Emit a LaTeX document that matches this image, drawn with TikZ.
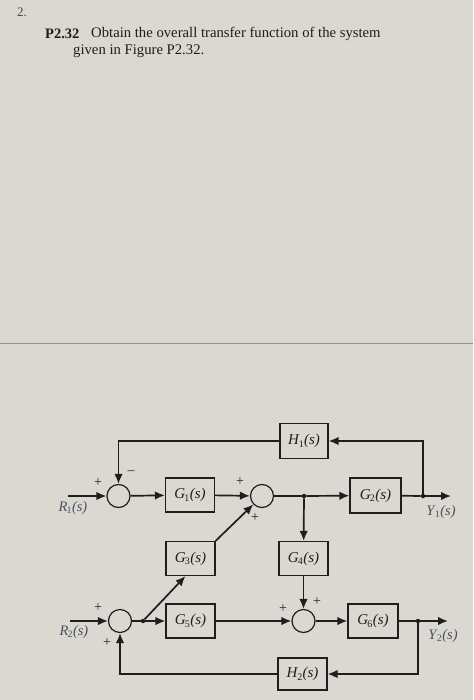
\documentclass[tikz,border=0pt]{standalone}
\usepackage{fontspec}
\setmainfont{Liberation Serif}
\usetikzlibrary{arrows.meta,calc}
\definecolor{paper}{RGB}{219,216,209}
\definecolor{ink}{RGB}{30,30,32}
\definecolor{lab}{RGB}{70,82,96}
\newcommand\tfn[2]{\textit{#1}\kern-0.8pt\raisebox{-0.35ex}{\fontsize{10}{10}\selectfont #2}\kern0.3pt\textit{(s)}}
\tikzset{
  blk/.style={draw=ink,line width=1.2pt,minimum width=49pt,minimum height=34pt,inner sep=0pt,font=\fontsize{15}{17}\selectfont,text=ink},
  sumn/.style={draw=ink,circle,line width=1.2pt,minimum size=23pt,inner sep=0pt},
  arr/.style={draw=ink,line width=1.7pt,-{Latex[length=10pt,width=8.5pt]}},
  ln/.style={draw=ink,line width=1.7pt},
  sgn/.style={font=\fontsize{14}{14}\selectfont,text=ink,inner sep=0pt},
  sig/.style={font=\fontsize{14.5}{16}\selectfont,text=lab,inner sep=0pt},
  dotn/.style={circle,fill=ink,inner sep=0pt,minimum size=4.5pt}
}
\begin{document}
\begin{tikzpicture}[x=1pt,y=-1pt]
\fill[paper] (0,0) rectangle (473,700);
\useasboundingbox (0,0) rectangle (473,700);
% header text
\node[font=\fontsize{13}{14}\selectfont,text=ink!80,anchor=center] (num) at (22,12) {2.};
\node[font=\fontsize{14.5}{17}\selectfont\bfseries,text=ink,anchor=west,inner sep=0pt] (pn) at (45,34) {P2.32};
\node[font=\fontsize{14.7}{17}\selectfont,text=ink,anchor=west,inner sep=0pt] (q1) at (91,34) {Obtain the overall transfer function of the system};
\node[font=\fontsize{14.7}{17}\selectfont,text=ink,anchor=west,inner sep=0pt] (q2) at (73,51) {given in Figure P2.32.};
% separator line
\draw[gray!85,line width=0.8pt] (0,343) -- (473,343);
% summing junctions
\node[sumn] (s1) at (118.5,496) {};
\node[sumn] (s2) at (262,496) {};
\node[sumn] (s3) at (120,621) {};
\node[sumn] (s4) at (303.5,621) {};
% blocks
\node[blk] (g1) at (190,495) {\tfn{G}{1}};
\node[blk,minimum width=48pt,minimum height=35pt] (h1) at (304,441) {\tfn{H}{1}};
\node[blk,minimum width=51pt,minimum height=35pt] (g2) at (375.5,495.5) {\tfn{G}{2}};
\node[blk] (g3) at (190.5,558.5) {\tfn{G}{3}};
\node[blk] (g4) at (303.5,558.5) {\tfn{G}{4}};
\node[blk] (g5) at (190.5,621) {\tfn{G}{5}};
\node[blk,minimum width=50pt] (g6) at (373,621) {\tfn{G}{6}};
\node[blk,minimum width=49pt,minimum height=32pt] (h2) at (302.5,674) {\tfn{H}{2}};
% coordinates
\coordinate (r1) at (68,496);
\coordinate (r2) at (70,621);
\coordinate (y1) at (451,496);
\coordinate (y2) at (448,621);
\coordinate (c1) at (423,441);
\coordinate (c2) at (118.5,441);
\coordinate (c3) at (418,674);
\coordinate (c4) at (120,674);
\node[dotn] (b1) at (304,496) {};
\node[dotn] (b2) at (423,496) {};
\node[dotn] (b3) at (143,621) {};
\node[dotn] (b4) at (418,621) {};
% connectors upper loop
\draw[arr] (r1) -- (s1);
\draw[arr] (s1) -- (g1);
\draw[arr] (g1) -- (s2);
\draw[ln] (s2) -- (b1);
\draw[arr] (b1) -- (g2);
\draw[arr] (b1) -- (g4);
\draw[ln] (g2) -- (b2);
\draw[arr] (b2) -- (y1);
\draw[arr] (b2) -- (c1) -- (h1);
\draw[arr] (h1) -- (c2) -- (s1);
\draw[arr] (g3.north east) -- (s2);
% connectors lower loop
\draw[arr] (r2) -- (s3);
\draw[ln] (s3) -- (b3);
\draw[arr] (b3) -- (g5);
\draw[arr] (b3) -- ($(g3.south west)!0.4!(g3.south east)$);
\draw[arr] (g5) -- (s4);
\draw[arr] (g4) -- (s4);
\draw[arr] (s4) -- (g6);
\draw[ln] (g6) -- (b4);
\draw[arr] (b4) -- (y2);
\draw[arr] (b4) -- (c3) -- (h2);
\draw[arr] (h2) -- (c4) -- (s3);
% signs
\node[sgn] (p1) at (98,483) {+};
\node[sgn] (m1) at (131,473) {\textendash};
\node[sgn] (p2) at (240,482) {+};
\node[sgn] (p3) at (255,518) {+};
\node[sgn] (p4) at (98,608) {+};
\node[sgn] (p5) at (107,643) {+};
\node[sgn] (p6) at (283,609) {+};
\node[sgn] (p7) at (317,602) {+};
% signal labels
\node[sig] (lr1) at (73,508) {\tfn{R}{1}};
\node[sig] (lr2) at (74,632) {\tfn{R}{2}};
\node[sig] (ly1) at (441,512) {\tfn{Y}{1}};
\node[sig] (ly2) at (443,636) {\tfn{Y}{2}};
\end{tikzpicture}
\end{document}
